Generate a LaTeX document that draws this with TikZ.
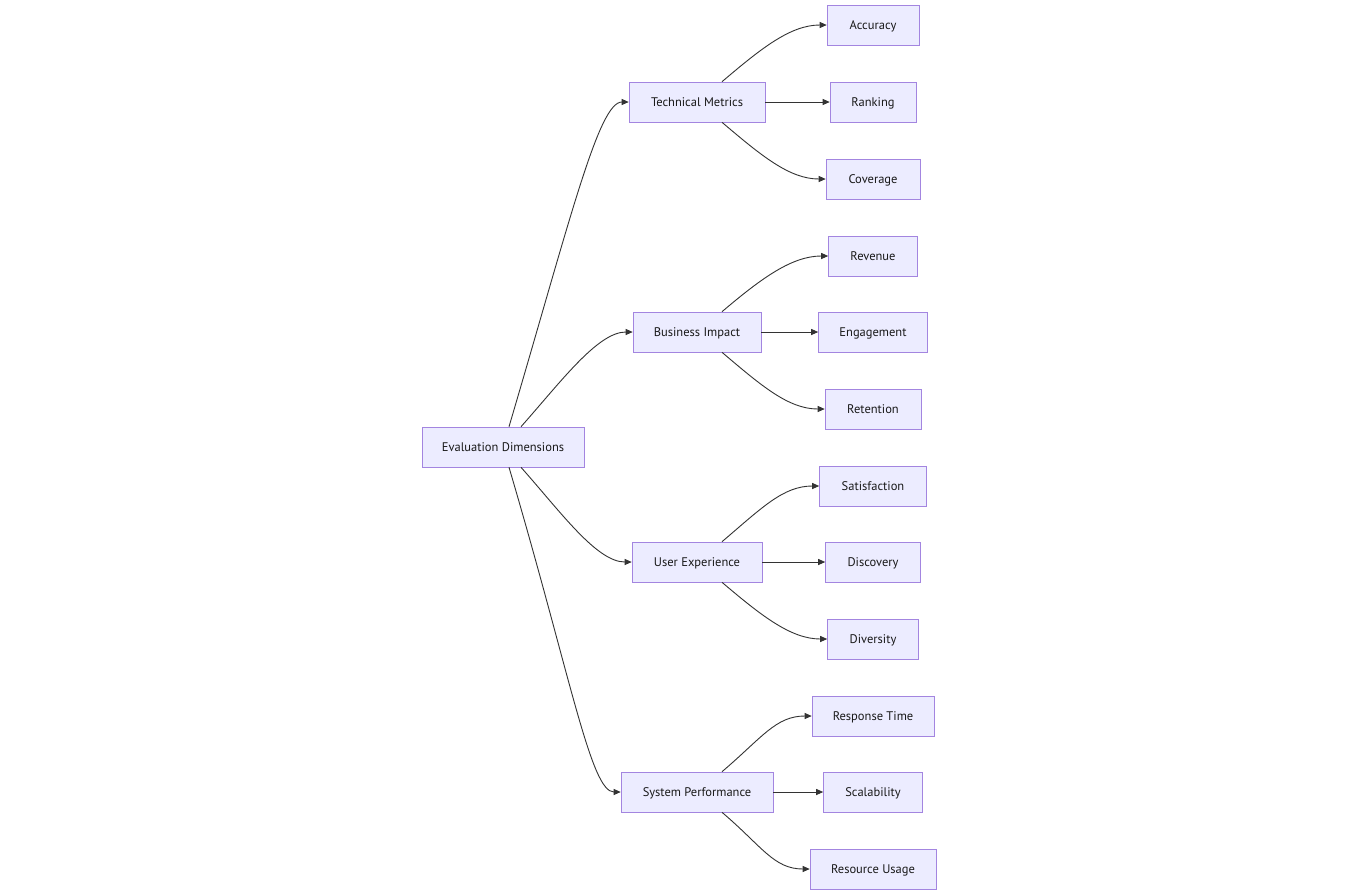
\documentclass[tikz,border=0pt]{standalone}
\usepackage{fontspec}
\setmainfont{PT Sans}
\usetikzlibrary{arrows.meta,calc}
\definecolor{nfill}{HTML}{ECECFF}
\definecolor{nstroke}{HTML}{9370DB}
\definecolor{edgec}{HTML}{333333}
\tikzset{
  box/.style={draw=nstroke!85!white, fill=nfill, line width=0.6pt, minimum height=40pt, inner sep=0pt, font=\fontsize{12.5}{14}\selectfont, text=black!90, text height=10pt, text depth=2pt},
  link/.style={draw=edgec, line width=0.9pt, -{Triangle[length=7pt,width=6pt]}},
}
\begin{document}
\begin{tikzpicture}[x=1pt,y=-1pt]
\useasboundingbox (0,0) rectangle (1358,895);
% root and children
\node[box, minimum width=162pt] (root) at (503,447) {Evaluation Dimensions};
\node[box, minimum width=136pt] (tech) at (697,102) {Technical Metrics};
\node[box, minimum width=128pt] (bus) at (697,332) {Business Impact};
\node[box, minimum width=130pt] (ux) at (697,562) {User Experience};
\node[box, minimum width=152pt] (sys) at (697,792) {System Performance};
% leaves
\node[box, minimum width=92pt] (acc) at (873,25) {Accuracy};
\node[box, minimum width=86pt] (rank) at (873,102) {Ranking};
\node[box, minimum width=94pt] (cov) at (873,179) {Coverage};
\node[box, minimum width=89pt] (rev) at (873,256) {Revenue};
\node[box, minimum width=109pt] (eng) at (873,332) {Engagement};
\node[box, minimum width=96pt] (ret) at (873,409) {Retention};
\node[box, minimum width=107pt] (sat) at (873,486) {Satisfaction};
\node[box, minimum width=95pt] (disc) at (873,562) {Discovery};
\node[box, minimum width=91pt] (div) at (873,639) {Diversity};
\node[box, minimum width=122pt] (resp) at (873,716) {Response Time};
\node[box, minimum width=99pt] (scal) at (873,792) {Scalability};
\node[box, minimum width=126pt] (res) at (873,869) {Resource Usage};
% root to children
\draw[link] ($(root.north)+(6,0)$) .. controls ++(62,-210) and ($(tech.west)+(-30,0)$) .. (tech.west);
\draw[link] ($(root.north)+(18,0)$) .. controls ++(40,-45) and ($(bus.west)+(-35,0)$) .. (bus.west);
\draw[link] ($(root.south)+(18,0)$) .. controls ++(40,45) and ($(ux.west)+(-35,0)$) .. (ux.west);
\draw[link] ($(root.south)+(6,0)$) .. controls ++(62,210) and ($(sys.west)+(-30,0)$) .. (sys.west);
% children to leaves
\foreach \c/\a/\b/\d in {tech/acc/rank/cov, bus/rev/eng/ret, ux/sat/disc/div, sys/resp/scal/res}{
  \draw[link] ($(\c.north)+(25,0)$) .. controls ++(40,-34) and ($(\a.west)+(-36,0)$) .. (\a.west);
  \draw[link] (\c.east) -- (\b.west);
  \draw[link] ($(\c.south)+(25,0)$) .. controls ++(40,34) and ($(\d.west)+(-36,0)$) .. (\d.west);
}
\end{tikzpicture}
\end{document}
